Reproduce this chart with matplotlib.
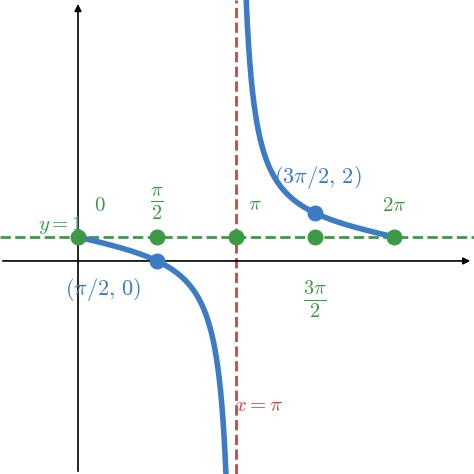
import numpy as np
import matplotlib.pyplot as plt
plt.rcParams['mathtext.fontset'] = 'cm'

pt_x = [0, np.pi/2, np.pi, 3*np.pi/2, 2*np.pi]
pt_y = [1, 1, 1, 1, 1]
blue_x = [np.pi/2, 3*np.pi/2]
blue_y = [0, 2]

fig = plt.figure(figsize=(4.74, 4.74), dpi=100)
ax = fig.add_axes([0, 0, 1, 1])
ax.set_xlim(-1.55, 7.87)
ax.set_ylim(-8.9, 10.9)
ax.axis('off')

blue = '#3d7cc4'; green = '#3c9a46'; red = '#cc4444'
ax.annotate('', xy=(7.85, 0), xytext=(-1.55, 0), arrowprops=dict(arrowstyle='-|>', color='black', lw=1.2))
ax.annotate('', xy=(0, 10.85), xytext=(0, -8.9), arrowprops=dict(arrowstyle='-|>', color='black', lw=1.2))

ax.axhline(1, color=green, ls='--', lw=2)
ax.axvline(np.pi, color=red, ls='--', lw=2)

x1 = np.linspace(0, np.pi - 0.01, 500)
x2 = np.linspace(np.pi + 0.01, 2*np.pi, 500)
for xs in (x1, x2):
    ax.plot(xs, 1 - np.tan(xs/2), color=blue, lw=4, solid_capstyle='round')

ax.scatter(pt_x, pt_y, s=110, color=green, zorder=5)
ax.scatter(blue_x, blue_y, s=110, color=blue, zorder=5)

fs = 15
ax.text(0.44, 2.1, r'$0$', color=green, fontsize=fs, ha='center')
ax.text(np.pi/2, 2.2, r'$\frac{\pi}{2}$', color=green, fontsize=21, ha='center')
ax.text(np.pi + 0.38, 2.1, r'$\pi$', color=green, fontsize=fs, ha='center')
ax.text(2*np.pi, 2.1, r'$2\pi$', color=green, fontsize=fs, ha='center')
ax.text(3*np.pi/2, -1.6, r'$\frac{3\pi}{2}$', color=green, fontsize=21, ha='center', va='center')
ax.text(-0.35, 1.05, r'$y=1$', color=green, fontsize=fs, ha='center', va='bottom')
ax.text(0.5, -1.2, r'$\left(\pi/2,\, 0\right)$', color=blue, fontsize=fs+1, ha='center', va='center')
ax.text(3*np.pi/2 + 0.05, 3.5, r'$\left(3\pi/2,\, 2\right)$', color=blue, fontsize=fs+1, ha='center', va='center')
ax.text(np.pi + 0.45, -6.0, r'$x=\pi$', color=red, fontsize=fs, ha='center', va='center')

fig.savefig('out.png', dpi=100)
